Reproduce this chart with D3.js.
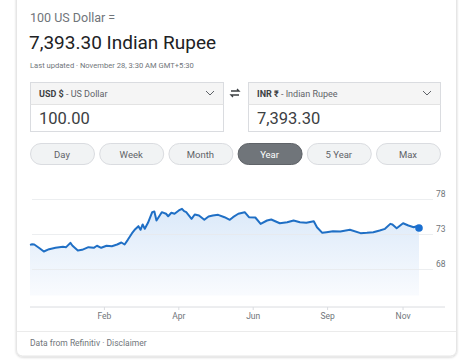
<!DOCTYPE html>
<html>
<head>
<meta charset="utf-8">
<script src="https://cdn.jsdelivr.net/npm/d3@7"></script>
<style>
  body { margin: 0; background: #fff; }
  svg { display: block; font-family: Roboto, Arial, sans-serif; }
</style>
</head>
<body>
<div id="chart"></div>
<script>
// rate series, 100 USD -> INR / 100
const dates = [
  "2019-11-28","2019-11-30","2019-12-02","2019-12-07","2019-12-11","2019-12-16","2019-12-22","2019-12-29",
  "2020-01-01","2020-01-05","2020-01-07","2020-01-12","2020-01-16","2020-01-22","2020-01-27","2020-01-30",
  "2020-02-03","2020-02-08","2020-02-13","2020-02-18","2020-02-22","2020-02-25","2020-02-28","2020-03-03",
  "2020-03-06","2020-03-09","2020-03-11","2020-03-13","2020-03-15","2020-03-18","2020-03-22","2020-03-24",
  "2020-03-26","2020-03-28","2020-03-31","2020-04-04","2020-04-06","2020-04-09","2020-04-12","2020-04-16",
  "2020-04-19","2020-04-21","2020-04-23","2020-04-28","2020-05-01","2020-05-05","2020-05-10","2020-05-14",
  "2020-05-18","2020-05-23","2020-05-29","2020-06-03","2020-06-06","2020-06-11","2020-06-17","2020-06-21",
  "2020-06-27","2020-07-02","2020-07-08","2020-07-12","2020-07-20","2020-07-27","2020-08-02","2020-08-08",
  "2020-08-14","2020-08-21","2020-08-24","2020-08-29","2020-09-02","2020-09-08","2020-09-15","2020-09-24",
  "2020-10-04","2020-10-10","2020-10-16","2020-10-22","2020-10-27","2020-11-01","2020-11-03","2020-11-07",
  "2020-11-13","2020-11-18","2020-11-23","2020-11-25","2020-11-28"
];
const rates = [
  71.52,71.61,71.57,71.04,70.57,70.90,71.10,71.24,
  71.19,71.81,71.39,70.71,70.81,71.19,71.10,71.39,
  71.10,71.39,71.33,71.57,71.86,71.57,72.24,73.19,
  73.76,74.19,73.67,74.43,73.81,74.67,76.19,76.29,
  75.00,75.47,76.19,75.96,75.61,76.10,75.96,76.43,
  76.67,76.33,76.19,75.24,75.86,75.71,75.10,75.57,
  75.71,75.81,75.47,75.10,75.47,75.96,76.19,75.47,
  75.43,74.52,75.00,75.14,74.61,74.76,75.00,74.76,
  74.67,74.90,74.04,73.24,73.33,73.47,73.43,73.67,
  73.19,73.24,73.33,73.57,73.81,74.52,74.43,73.90,
  74.61,74.29,74.04,74.14,73.93
];
const yTicks = [68, 73, 78];
const xTickDates = ["2020-02-06","2020-04-16","2020-06-25","2020-09-03","2020-11-13"];
const ranges = ["Day", "Week", "Month", "Year", "5 Year", "Max"];
const activeRange = "Year";

const W = 474, H = 361;
const grey = "#70757a";
const parse = d3.timeParse("%Y-%m-%d");
const data = dates.map((d, i) => ({ date: parse(d), rate: rates[i] }));

const svg = d3.select("#chart").append("svg").attr("width", W).attr("height", H);

// card
const defs = svg.append("defs");
const sh = defs.append("filter").attr("id", "sh").attr("x", "-5%").attr("y", "-5%").attr("width", "110%").attr("height", "110%");
sh.append("feDropShadow").attr("dx", 0).attr("dy", 1).attr("stdDeviation", 1).attr("flood-color", "#000").attr("flood-opacity", 0.18);
svg.append("rect").attr("x", 16.5).attr("y", -10).attr("width", 440).attr("height", 366).attr("rx", 6)
  .attr("fill", "#fff").attr("stroke", "#e6e6e6").attr("filter", "url(#sh)");

// header
svg.append("text").attr("x", 30).attr("y", 22).attr("font-size", 12.5).attr("fill", grey).text("100 US Dollar =");
svg.append("text").attr("x", 29).attr("y", 49).attr("font-size", 19).attr("fill", "#202124").text("7,393.30 Indian Rupee");
svg.append("text").attr("x", 30).attr("y", 68).attr("font-size", 7.6).attr("fill", grey)
  .text("Last updated · November 28, 3:30 AM GMT+5:30");

// currency boxes
function currencyBox(x, w, code, name, value) {
  const g = svg.append("g").attr("transform", `translate(${x},82)`);
  g.append("rect").attr("x", 0.5).attr("y", 0.5).attr("width", w).attr("height", 49).attr("fill", "#fff").attr("stroke", "#dadce0");
  g.append("rect").attr("x", 1).attr("y", 1).attr("width", w - 1).attr("height", 21).attr("fill", "#f5f5f5");
  g.append("line").attr("x1", 0.5).attr("x2", w + 0.5).attr("y1", 22.5).attr("y2", 22.5).attr("stroke", "#e3e3e3");
  const t = g.append("text").attr("x", 9).attr("y", 15).attr("font-size", 9).attr("fill", "#3c4043");
  t.append("tspan").attr("font-weight", "bold").text(code);
  t.append("tspan").attr("fill", "#5f6368").text(" - " + name);
  g.append("path").attr("d", `M${w - 17},9 l4,4 l4,-4`).attr("fill", "none").attr("stroke", "#5f6368").attr("stroke-width", 1);
  g.append("text").attr("x", 9).attr("y", 42).attr("font-size", 16.5).attr("fill", "#3c4043").text(value);
}
currencyBox(30, 193, "USD $", "US Dollar", "100.00");
currencyBox(248, 192, "INR ₹", "Indian Rupee", "7,393.30");
// swap icon
svg.append("path").attr("d", "M231,91 h8 l-2,-2 M239,95 h-8 l2,2")
  .attr("fill", "none").attr("stroke", "#3c4043").attr("stroke-width", 1.3);

// range buttons
const bx = d3.scaleBand().domain(ranges).range([30, 440]).paddingInner(0.075);
const btn = svg.append("g").selectAll("g").data(ranges).join("g")
  .attr("transform", d => `translate(${bx(d)},143)`);
btn.append("rect").attr("x", 0.5).attr("y", 0.5).attr("width", bx.bandwidth()).attr("height", 21).attr("rx", 10.5)
  .attr("fill", d => d === activeRange ? "#70757a" : "#f1f3f4")
  .attr("stroke", d => d === activeRange ? "#5f6368" : "#dadce0");
btn.append("text").attr("x", bx.bandwidth() / 2).attr("y", 14.5).attr("text-anchor", "middle").attr("font-size", 9.5)
  .attr("fill", d => d === activeRange ? "#fff" : "#5f6368").text(d => d);

// chart
const x = d3.scaleTime().domain(d3.extent(data, d => d.date)).range([30, 419]);
const y = d3.scaleLinear().domain([68, 78]).range([269.5, 199.5]);
const baseVal = 64.3;

const grad = defs.append("linearGradient").attr("id", "fillGrad").attr("gradientUnits", "userSpaceOnUse")
  .attr("x1", 0).attr("x2", 0).attr("y1", y(76.7)).attr("y2", y(baseVal));
grad.append("stop").attr("offset", 0).attr("stop-color", "#dbe9f9");
grad.append("stop").attr("offset", 1).attr("stop-color", "#f9fbfe");

const area = d3.area().x(d => x(d.date)).y0(y(baseVal)).y1(d => y(d.rate));
svg.append("path").datum(data).attr("d", area).attr("fill", "url(#fillGrad)");

svg.append("g").selectAll("line").data(yTicks).join("line")
  .attr("x1", 32).attr("x2", 433).attr("y1", d => y(d)).attr("y2", d => y(d))
  .attr("stroke", "#e8eaed").attr("stroke-width", 1).attr("opacity", 0.8);
svg.append("g").selectAll("text").data(yTicks).join("text")
  .attr("x", 436).attr("y", d => y(d) - 3).attr("font-size", 8.5).attr("fill", grey).text(d => d);

const line = d3.line().x(d => x(d.date)).y(d => y(d.rate));
svg.append("path").datum(data).attr("d", line).attr("fill", "none")
  .attr("stroke", "#1f6fc5").attr("stroke-width", 2).attr("stroke-linejoin", "round");
const last = data[data.length - 1];
svg.append("circle").attr("cx", x(last.date)).attr("cy", y(last.rate)).attr("r", 3.8).attr("fill", "#1a6fd0");

// x axis
const xAxis = svg.append("g").attr("transform", "translate(0,307)");
xAxis.append("line").attr("x1", 30).attr("x2", 445).attr("stroke", "#dadce0");
const xt = xAxis.selectAll("g").data(xTickDates.map(parse)).join("g")
  .attr("transform", d => `translate(${x(d)},0)`);
xt.append("line").attr("y1", 0).attr("y2", 3).attr("stroke", "#dadce0");
xt.append("text").attr("y", 12).attr("text-anchor", "middle").attr("font-size", 8.5).attr("fill", grey)
  .text(d => d3.timeFormat("%b")(d));

// footer
svg.append("line").attr("x1", 17).attr("x2", 456).attr("y1", 331.5).attr("y2", 331.5).attr("stroke", "#ebebeb");
svg.append("text").attr("x", 30).attr("y", 346).attr("font-size", 8.5).attr("fill", grey)
  .text("Data from Refinitiv · Disclaimer");
</script>
</body>
</html>
